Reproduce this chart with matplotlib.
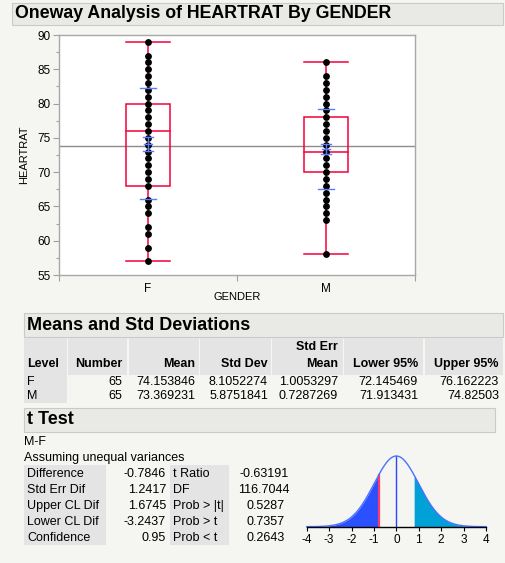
import math
import numpy as np
import matplotlib
matplotlib.use('Agg')
import matplotlib.pyplot as plt
from matplotlib.patches import Rectangle

# ---------------- data ----------------
genders = ['F', 'M']
heartrat_F = [89, 87, 86, 85, 84, 83, 82, 81, 80, 79, 78, 77, 76, 75, 74, 73, 72,
              71, 70, 69, 68, 66, 65, 64, 62, 61, 59, 57]
heartrat_M = [86, 84, 83, 82, 81, 80, 79, 78, 77, 76, 75, 74, 73, 72, 71, 70, 69,
              68, 67, 66, 65, 64, 63, 58]
box_q1 = [68, 70]
box_median = [76, 73]
box_q3 = [80, 78]
whisker_lo = [57, 58]
whisker_hi = [89, 86]
grand_mean = 73.76

numbers = [65, 65]
means = [74.153846, 73.369231]
std_devs = [8.1052274, 5.8751841]
std_errs = [1.0053297, 0.7287269]
lower95 = [72.145469, 71.913431]
upper95 = [76.162223, 74.82503]

ttest_labels1 = ['Difference', 'Std Err Dif', 'Upper CL Dif', 'Lower CL Dif', 'Confidence']
ttest_values1 = ['-0.7846', '1.2417', '1.6745', '-3.2437', '0.95']
ttest_labels2 = ['t Ratio', 'DF', 'Prob > |t|', 'Prob > t', 'Prob < t']
ttest_values2 = ['-0.63191', '116.7044', '0.5287', '0.7357', '0.2643']
difference = -0.7846
dof = 116.7044
t_ticks = [-4, -3, -2, -1, 0, 1, 2, 3, 4]

# ---------------- layout helpers ----------------
W, H = 506, 563
BG = '#f5f5f1'
BAR = '#e9e9e5'
CELL = '#e4e4e4'
RED = '#f5003a'
FONT = ['Liberation Sans', 'DejaVu Sans']
plt.rcParams['font.family'] = FONT

fig = plt.figure(figsize=(W / 100, H / 100), dpi=100, facecolor=BG)


def fx(x):
    return x / W


def fy(y):
    return 1 - y / H


def rect(x0, y0, x1, y1, fc, ec='none', lw=0.8):
    fig.add_artist(Rectangle((fx(x0), fy(y1)), (x1 - x0) / W, (y1 - y0) / H,
                             transform=fig.transFigure, fc=fc, ec=ec, lw=lw))


def txt(x, y, s, ha='left', size=9, weight='normal'):
    fig.text(fx(x), fy(y), s, ha=ha, va='center', fontsize=size, fontweight=weight,
             color='black')


# ---------------- title bar ----------------
rect(12.5, 2.5, 503, 25, BAR, '#cacac6')
txt(15.5, 14, 'Oneway Analysis of HEARTRAT By GENDER', size=12.75, weight='bold')

# ---------------- main plot ----------------
ax = fig.add_axes([fx(59), fy(275), 356 / W, 240 / H])
ax.set_facecolor('white')
ax.set_xlim(-0.5, 1.5)
ax.set_ylim(55, 90)
for sp in ax.spines.values():
    sp.set_color('#a8a8a8')
    sp.set_linewidth(1.0)

ax.axhline(grand_mean, color='#8c8c8c', lw=1.0, zorder=1)

hw = 0.1225
for i, vals in enumerate([heartrat_F, heartrat_M]):
    ax.add_patch(Rectangle((i - hw, box_q1[i]), 2 * hw, box_q3[i] - box_q1[i],
                           fill=False, ec=RED, lw=1.1, zorder=2))
    ax.plot([i - hw, i + hw], [box_median[i]] * 2, color=RED, lw=1.1, zorder=2)
    ax.plot([i, i], [whisker_lo[i], box_q1[i]], color=RED, lw=1.1, zorder=2)
    ax.plot([i, i], [box_q3[i], whisker_hi[i]], color=RED, lw=1.1, zorder=2)
    ax.plot([i - hw, i + hw], [whisker_lo[i]] * 2, color=RED, lw=1.1, zorder=2)
    ax.plot([i - hw, i + hw], [whisker_hi[i]] * 2, color=RED, lw=1.1, zorder=2)
    ax.plot([i] * len(vals), vals, 'o', color='black', ms=3.9, mec='black', zorder=4)
    # blue mean / error / std dev marks
    blue = '#5a7cff'
    m, sd, se = means[i], std_devs[i], std_errs[i]
    for yv, w in [(m + sd, 0.045), (m - sd, 0.045), (m + se, 0.03), (m - se, 0.03), (m, 0.025)]:
        ax.plot([i - w, i + w], [yv, yv], color=blue, lw=1.0, zorder=5)
    ax.plot([i, i], [m - se, m + se], color=blue, lw=1.0, zorder=5)

ax.set_yticks(np.arange(55, 91, 5))
ax.set_yticks(np.arange(57.5, 90, 5), minor=True)
ax.set_xticks([0, 1])
ax.set_xticklabels(genders)
ax.set_xticks([-0.5, 0.5, 1.5], minor=True)
ax.tick_params(axis='y', which='major', length=4.3, width=0.8, color='#a0a0a0',
               labelsize=8.5, pad=1.5)
ax.tick_params(axis='y', which='minor', length=2.2, width=0.8, color='#a0a0a0')
ax.tick_params(axis='x', which='major', length=0, labelsize=8.5, pad=6)
ax.tick_params(axis='x', which='minor', length=4.3, width=0.8, color='#a0a0a0')
fig.text(fx(24), fy(155), 'HEARTRAT', rotation=90, ha='center', va='center', fontsize=8)
fig.text(fx(237), fy(297), 'GENDER', ha='center', va='center', fontsize=8)

# ---------------- Means and Std Deviations ----------------
rect(24, 313, 503, 337, BAR, '#cacac6')
txt(27.5, 325, 'Means and Std Deviations', size=13, weight='bold')

cols = [(24, 67), (68.5, 127.5), (129, 198.5), (200, 270.5), (272, 343), (344.5, 423), (424.5, 503)]
for x0, x1 in cols:
    rect(x0, 338, x1, 375, CELL)
rect(24, 375, 67, 403, CELL)

hdr_y = 364
txt(27.5, hdr_y, 'Level', weight='bold')
right_edges = [122, 195, 268, 338, 418, 499]
headers = ['Number', 'Mean', 'Std Dev', 'Mean', 'Lower 95%', 'Upper 95%']
for xr, h in zip(right_edges, headers):
    txt(xr, hdr_y, h, ha='right', weight='bold')
txt(338, 347.5, 'Std Err', ha='right', weight='bold')

row_y = [382, 396]
for r in range(2):
    txt(27.5, row_y[r], genders[r])
    vals = [str(numbers[r]), str(means[r]), str(std_devs[r]), str(std_errs[r]),
            str(lower95[r]), str(upper95[r])]
    for xr, v in zip(right_edges, vals):
        txt(xr, row_y[r], v, ha='right')

# ---------------- t Test ----------------
rect(24, 408, 495, 432, BAR, '#cacac6')
txt(27.5, 420, 't Test', size=13, weight='bold')
txt(24, 442, 'M-F')
txt(24, 457.5, 'Assuming unequal variances')

rect(24, 465, 106, 545, CELL)
rect(170, 465, 229, 545, CELL)
t_rows = [474, 490, 506, 522, 538]
v2_right = [288.5, 289.5, 284.5, 284.5, 284.5]
for k in range(5):
    txt(27.5, t_rows[k], ttest_labels1[k])
    txt(166, t_rows[k], ttest_values1[k], ha='right')
    txt(173, t_rows[k], ttest_labels2[k])
    txt(v2_right[k], t_rows[k], ttest_values2[k], ha='right')

# ---------------- t distribution plot ----------------
def t_pdf(x, nu):
    c = math.exp(math.lgamma((nu + 1) / 2) - math.lgamma(nu / 2)) / math.sqrt(nu * math.pi)
    return c * (1 + x ** 2 / nu) ** (-(nu + 1) / 2)


xs = np.linspace(t_ticks[0], t_ticks[-1], 600)
ys = np.array([t_pdf(v, dof) for v in xs])
peak = t_pdf(0, dof)

ax2 = fig.add_axes([fx(306.7), fy(526.7), 179.3 / W, 70.7 / H])
ax2.set_xlim(t_ticks[0], t_ticks[-1])
ax2.set_ylim(0, peak)
ax2.patch.set_visible(False)
for s in ['top', 'left', 'right']:
    ax2.spines[s].set_visible(False)
ax2.spines['bottom'].set_color('black')
ax2.spines['bottom'].set_linewidth(1.0)
ax2.spines['bottom'].set_zorder(6)

cut = abs(difference)
left = xs <= -cut
right = xs >= cut
ax2.fill_between(xs[left], 0, ys[left], color='#2a50ff', lw=0)
ax2.fill_between(xs[right], 0, ys[right], color='#00a1d6', lw=0)
ax2.plot([-cut, -cut], [0, t_pdf(-cut, dof)], color='#ff3a6a', lw=1.6)
ax2.plot([0, 0], [0, peak], color='#2a46ff', lw=1.0)
ax2.plot(xs, ys, color='#4a72ff', lw=1.0, clip_on=False)
ax2.set_xticks(t_ticks)
ax2.set_xticklabels([str(t) for t in t_ticks])
ax2.set_yticks([])
ax2.tick_params(axis='x', length=3, width=0.8, labelsize=8.5, pad=2)

fig.savefig('out.png', dpi=100, facecolor=BG)
